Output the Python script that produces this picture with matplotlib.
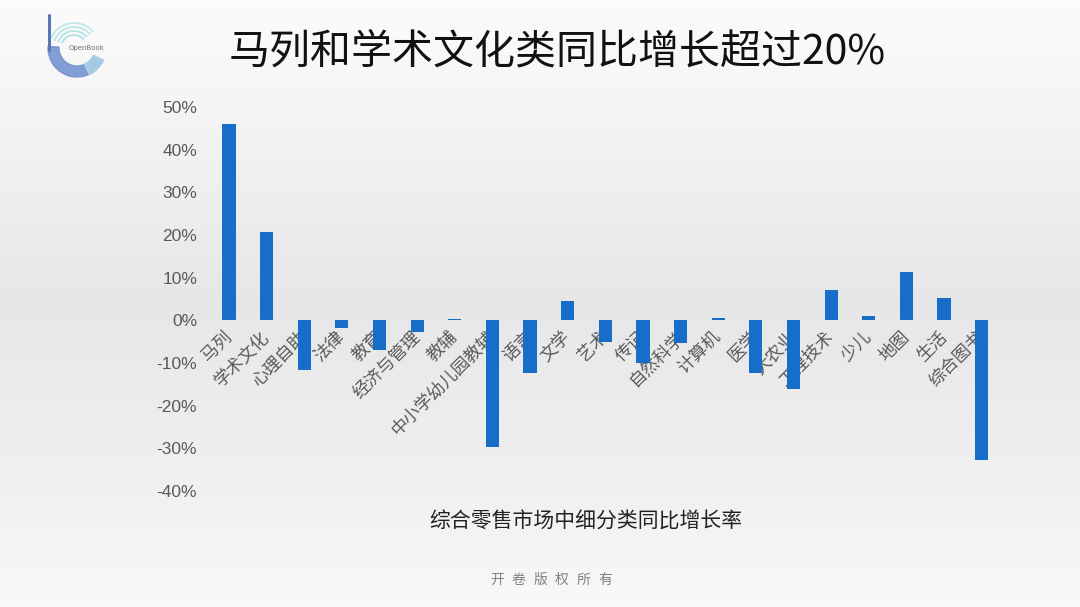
import matplotlib
matplotlib.use('Agg')
import matplotlib.pyplot as plt
import numpy as np
from matplotlib.ticker import PercentFormatter
from matplotlib.patches import Wedge, Arc

plt.rcParams['font.family'] = ['Noto Sans CJK SC', 'DejaVu Sans']
plt.rcParams['axes.unicode_minus'] = False

categories = ['马列', '学术文化', '心理自助', '法律', '教育', '经济与管理', '教辅',
              '中小学幼儿园教辅', '语言', '文学', '艺术', '传记', '自然科学', '计算机',
              '医学', '大农业', '工程技术', '少儿', '地图', '生活', '综合图书']
growth = [46.0, 20.6, -11.7, -1.7, -7.0, -2.7, 0.3, -29.7, -12.4, 4.5, -5.1,
          -9.9, -5.3, 0.6, -12.4, -16.0, 7.0, 1.0, 11.3, 5.2, -32.8]
yticks = [-40, -30, -20, -10, 0, 10, 20, 30, 40, 50]

title = '马列和学术文化类同比增长超过20%'
xlabel = '综合零售市场中细分类同比增长率'
footer = '开卷版权所有'

W, H = 1080, 607
fig = plt.figure(figsize=(W / 100, H / 100), dpi=100)

# background gradient
bg = fig.add_axes([0, 0, 1, 1], zorder=-10)
yy = np.linspace(0, 1, 300)
shade = np.interp(yy, [0, 0.08, 0.5, 0.85, 1.0], [0.985, 0.975, 0.905, 0.95, 0.975])
img = np.repeat(shade[:, None], 2, axis=1)
bg.imshow(np.dstack([img, img, img]), aspect='auto', extent=[0, W, H, 0])
bg.set_xlim(0, W)
bg.set_ylim(H, 0)
bg.axis('off')

# logo approximation (y axis inverted: 90 deg points down)
cx, cy, R = 77, 48, 29
bg.plot([48.5, 48.5], [15, 50], color='#5a78b0', lw=2.2, solid_capstyle='round')
bg.add_patch(Wedge((cx, cy), R, 25, 183, width=11, color='#6f8fd0', alpha=0.85))
bg.add_patch(Wedge((cx, cy), R, 25, 65, width=11, color='#b5dcea', alpha=0.7))
for r, a in [(13, 0.55), (17, 0.5), (21, 0.45), (25, 0.4)]:
    bg.add_patch(Arc((cx - 3, cy), 2 * r, 2 * r, theta1=200, theta2=320,
                     color='#6fcfd0', lw=1.3, alpha=a))
bg.text(69, 48, 'OpenBook', fontsize=5, color='#6a7080', family=['DejaVu Sans'],
        va='center')

# main axes
left = 202.6 / W
right = 1008 / W
top = 1 - 107 / H
bottom = 1 - 491 / H
ax = fig.add_axes([left, bottom, right - left, top - bottom])
ax.set_facecolor('none')
x = np.arange(len(categories))
ax.bar(x, growth, width=0.35, color='#176ec8', zorder=3)
ax.set_xlim(-0.7, len(categories) - 1 + 0.7)
ax.set_ylim(-40, 50)
ax.set_yticks(yticks)
ax.yaxis.set_major_formatter(PercentFormatter(decimals=0))
for s in ax.spines.values():
    s.set_visible(False)
ax.spines['bottom'].set_position(('data', 0))
ax.set_axisbelow(True)
ax.set_xticks(x)
ax.set_xticklabels(categories, rotation=45, ha='right', va='center',
                   rotation_mode='anchor', fontsize=12.5, color='#595959')
ax.tick_params(axis='x', length=0, pad=10)
ax.tick_params(axis='y', length=0, pad=4, labelsize=12.5, labelcolor='#595959')
for lab in ax.get_yticklabels():
    lab.set_family(['Liberation Sans', 'DejaVu Sans'])

fig.text(557 / W, 1 - 52 / H, title, ha='center', va='center', fontsize=29.5,
         color='#111111', weight='medium')
fig.text(586 / W, 1 - 522 / H, xlabel, ha='center', va='center', fontsize=15,
         color='#222222')
fx = np.linspace(497, 605, len(footer))
for ch, px in zip(footer, fx):
    fig.text(px / W, 1 - 580 / H, ch, ha='center', va='center', fontsize=10,
             color='#808080')

fig.savefig('out.png', dpi=100)
